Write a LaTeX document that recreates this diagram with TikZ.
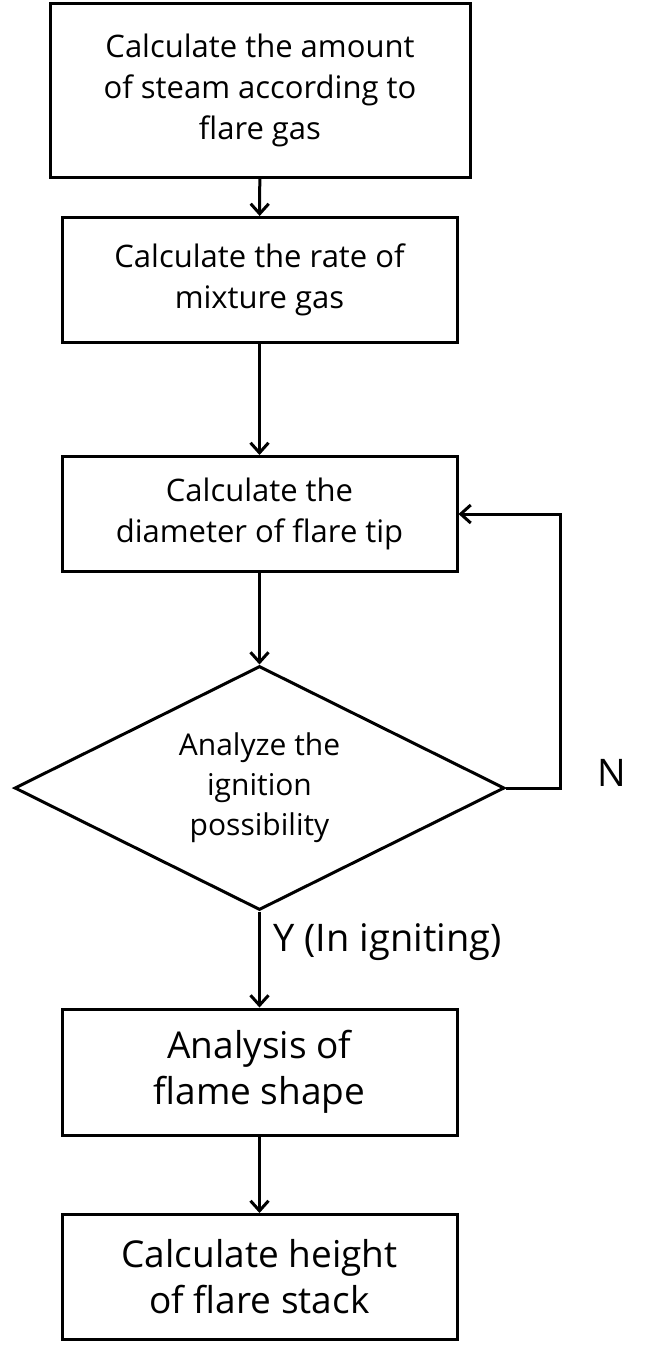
\documentclass[tikz,border=0pt]{standalone}
\usepackage{fontspec}
\setmainfont{Open Sans}
\usetikzlibrary{shapes.geometric,arrows.meta}
\begin{document}
\begin{tikzpicture}[x=1pt,y=-1pt,
  box/.style={draw,line width=3pt,align=center,inner sep=0pt},
  arr/.style={-{Straight Barb[length=10pt,width=18pt,line width=3pt]},line width=3pt},
  t1/.style={font=\fontsize{31}{41}\selectfont},
  t2/.style={font=\fontsize{37}{46}\selectfont}]
\useasboundingbox (0,0) rectangle (664,1363);
\node[box,t1,minimum width=420,minimum height=174] (b1) at (260,90) {Calculate the amount\\of steam according to\\flare gas};
\node[box,t1,minimum width=395,minimum height=125] (b2) at (259.5,280) {Calculate the rate of\\mixture gas};
\node[box,t1,minimum width=395,minimum height=115] (b3) at (259.5,514) {Calculate the\\diameter of flare tip};
\node[draw,line width=3pt,diamond,aspect=2,minimum width=490,minimum height=244,inner sep=0pt] (d) at (259.5,788) {};
\node[font=\fontsize{30}{40}\selectfont,align=center] at (259.5,788) {Analyze the\\ignition\\possibility};
\node[box,t2,minimum width=395,minimum height=126] (b4) at (259.5,1072) {Analysis of\\flame shape};
\node[box,t2,minimum width=395,minimum height=125] (b5) at (259.5,1277) {Calculate height\\of flare stack};
\draw[arr] (b1) -- (b2);
\draw[arr] (b2) -- (b3);
\draw[arr] (b3) -- (d.north);
\draw[arr] (d.south) -- (b4);
\draw[arr] (b4) -- (b5);
\coordinate (c1) at (560,788);
\coordinate (c2) at (560,514);
\draw[arr] (d.east) -- (c1) -- (c2) -- (b3.east);
\node[font=\fontsize{38}{44}\selectfont] (n) at (612,773) {N};
\node[font=\fontsize{38}{44}\selectfont,anchor=west] (y) at (270,942) {Y (In igniting)};
\end{tikzpicture}
\end{document}
